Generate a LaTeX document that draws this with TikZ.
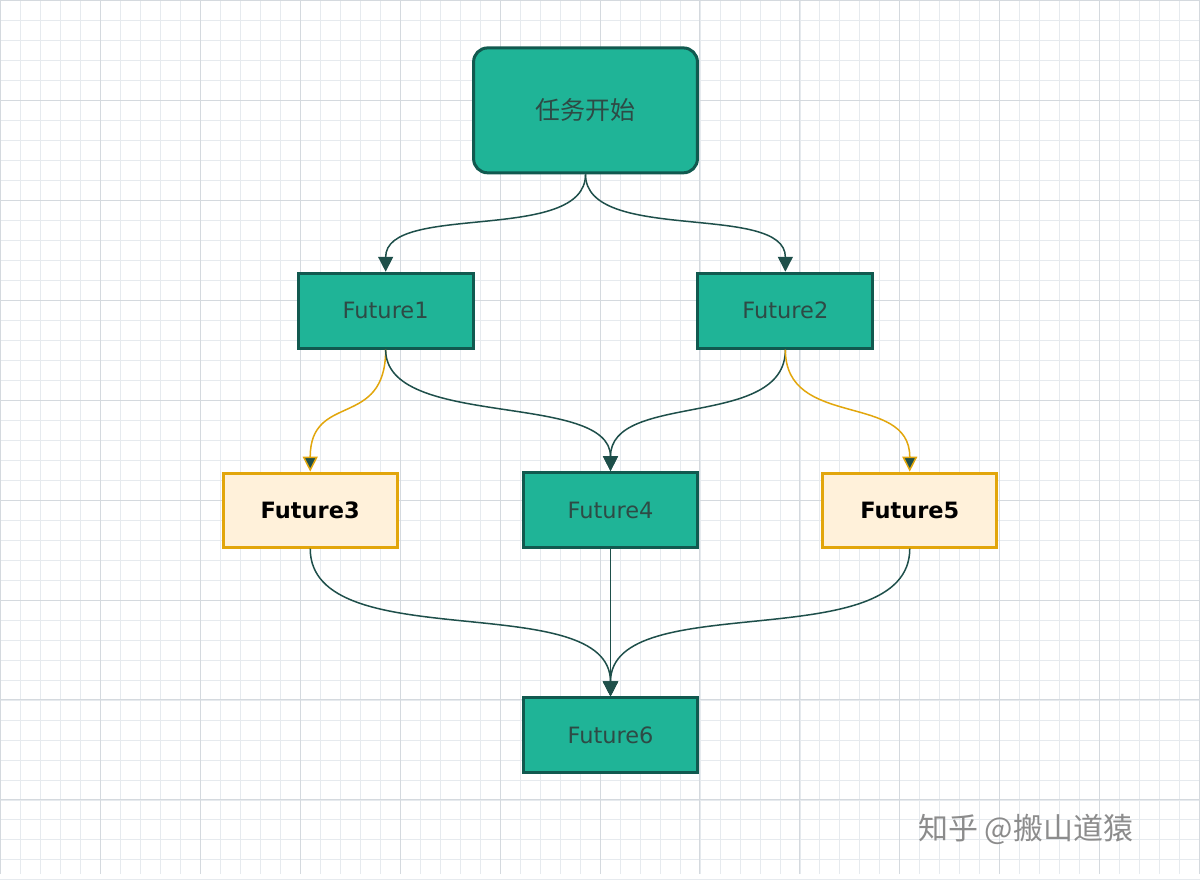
\documentclass[tikz,border=0pt]{standalone}
\usepackage{fontspec}
\setmainfont{DejaVu Sans}
\newfontfamily\cjk{Noto Sans CJK SC}
\usetikzlibrary{arrows.meta}
\definecolor{teal1}{HTML}{1FB497}
\definecolor{tealb}{HTML}{11594F}
\definecolor{txt}{HTML}{2E4A45}
\definecolor{gold}{HTML}{E2A60C}
\definecolor{cream}{HTML}{FFF1DA}
\definecolor{line}{HTML}{1E4F4A}
\definecolor{gridc}{HTML}{E6EAEE}
\definecolor{gridm}{HTML}{D4D9DE}
\begin{document}
\begin{tikzpicture}[x=1pt,y=-1pt,
 tbox/.style={draw=tealb,line width=3pt,fill=teal1,minimum width=175pt,minimum height=75pt,text=txt,font=\fontsize{22.5}{26}\selectfont},
 obox/.style={draw=gold,line width=3pt,fill=cream,minimum width=174pt,minimum height=74pt,text=black,font=\fontsize{22.5}{26}\selectfont\bfseries},
 conn/.style={draw=line,line width=1.5pt,-{Triangle[length=15pt,width=15pt]}},
 oconn/.style={draw=gold,line width=1.5pt,-{Triangle[length=15pt,width=15pt,fill=line]}}]
\fill[white] (0,0) rectangle (1200,874);
\foreach \i in {0,20,...,1200} \draw[gridc,line width=0.7pt] (\i,0) -- (\i,874);
\foreach \i in {0,20,...,880} \draw[gridc,line width=0.7pt] (0,\i) -- (1200,\i);
\foreach \i in {0,100,...,1200} \draw[gridm,line width=0.9pt] (\i,0) -- (\i,874);
\foreach \i in {0,100,...,800} \draw[gridm,line width=0.9pt] (0,\i) -- (1200,\i);
\node[tbox,rounded corners=14pt,minimum width=224pt,minimum height=125pt,font=\cjk\fontsize{25}{28}\selectfont] (s) at (585.5,110) {任务开始};
\node[tbox] (f1) at (385.5,310.5) {Future1};
\node[tbox] (f2) at (785.5,310.5) {Future2};
\node[obox] (f3) at (310,510) {Future3};
\node[tbox] (f4) at (610.5,510) {Future4};
\node[obox] (f5) at (910,510) {Future5};
\node[tbox] (f6) at (610.5,735.5) {Future6};
\draw[conn] (s.south) .. controls +(0,70) and +(0,-70) .. (f1.north);
\draw[conn] (s.south) .. controls +(0,70) and +(0,-70) .. (f2.north);
\draw[oconn] (f1.south) .. controls +(0,80) and +(0,-80) .. (f3.north);
\draw[conn] (f1.south) .. controls +(0,80) and +(0,-80) .. (f4.north);
\draw[conn] (f2.south) .. controls +(0,80) and +(0,-80) .. (f4.north);
\draw[oconn] (f2.south) .. controls +(0,80) and +(0,-80) .. (f5.north);
\draw[conn] (f3.south) .. controls +(0,110) and +(0,-110) .. (f6.north);
\draw[conn] (f4.south) -- (f6.north);
\draw[conn] (f5.south) .. controls +(0,110) and +(0,-110) .. (f6.north);
\node[text=black!45,font=\cjk\fontsize{30}{34}\selectfont] (wm) at (1026,830) {知乎 @搬山道猿};
\end{tikzpicture}
\end{document}
